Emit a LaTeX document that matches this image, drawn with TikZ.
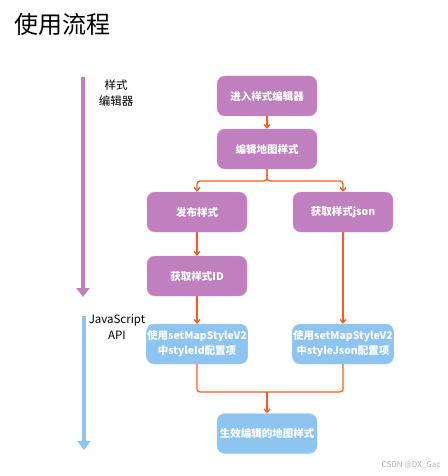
\documentclass[tikz,border=0pt]{standalone}
\usepackage{fontspec}
\setmainfont{Noto Sans CJK SC}
\usetikzlibrary{arrows.meta}
\definecolor{purp}{HTML}{C07FBE}
\definecolor{bluebox}{HTML}{8DC5F0}
\definecolor{orng}{HTML}{FF5A1E}
\tikzset{
  box/.style={rounded corners=8pt, minimum width=100pt, minimum height=40pt, inner sep=1pt,
    text=white, font=\fontsize{10.5}{15}\selectfont\bfseries, align=center},
  pbox/.style={box, fill=purp, draw=purp!80!white},
  bbox/.style={box, fill=bluebox, draw=bluebox!80!white},
  conn/.style={draw=orng, line width=1.2pt, rounded corners=3pt, -{Straight Barb[length=3.5pt,width=6pt]}},
  connl/.style={draw=orng, line width=1.2pt, rounded corners=3pt},
  side/.style={font=\fontsize{11.5}{15.5}\selectfont, align=center, text=black},
}
\begin{document}
\begin{tikzpicture}[x=1pt,y=-1pt]
\useasboundingbox (0,0) rectangle (447,476);
\node[anchor=west, font=\fontsize{24}{28}\selectfont] (title) at (11,24) {使用流程};
% side arrows
\coordinate (ps) at (83,77);
\coordinate (pe) at (83,297);
\draw[purp, line width=4pt, -{Triangle[length=9pt,width=13pt]}] (ps) -- (pe);
\node[side] (plab) at (116,93) {样式\\编辑器};
\coordinate (bs) at (84,316);
\coordinate (be) at (84,450);
\draw[bluebox, line width=4pt, -{Triangle[length=9pt,width=13pt]}] (bs) -- (be);
\node[side] (blab) at (117,327) {JavaScript\\API};
% boxes
\node[pbox] (b1) at (267,96) {进入样式编辑器};
\node[pbox] (b2) at (267,149) {编辑地图样式};
\node[pbox] (b3) at (197,212) {发布样式};
\node[pbox] (b4) at (343,212) {获取样式json};
\node[pbox] (b5) at (197,276) {获取样式ID};
\node[bbox] (b6) at (197,344) {使用setMapStyleV2\\中styleId配置项};
\node[bbox] (b7) at (343,344) {使用setMapStyleV2\\中styleJson配置项};
\node[bbox] (b8) at (267,433.5) {生效编辑的地图样式};
% connectors
\draw[conn] (b1) -- (b2);
\draw[conn] (b2.south) |- (197,181) -- (b3.north);
\draw[conn] (b2.south) |- (343,181) -- (b4.north);
\draw[conn] (b3) -- (b5);
\draw[conn] (b5) -- (b6);
\draw[conn] (b4) -- (b7);
\draw[connl] (b6.south) |- (267,392);
\draw[connl] (b7.south) |- (267,392);
\draw[conn] (267,392) -- (b8.north);
\node[anchor=east, text=black!30, font=\fontsize{8}{10}\selectfont] (wm) at (444,465) {CSDN @DX\_Gac};
\end{tikzpicture}
\end{document}
